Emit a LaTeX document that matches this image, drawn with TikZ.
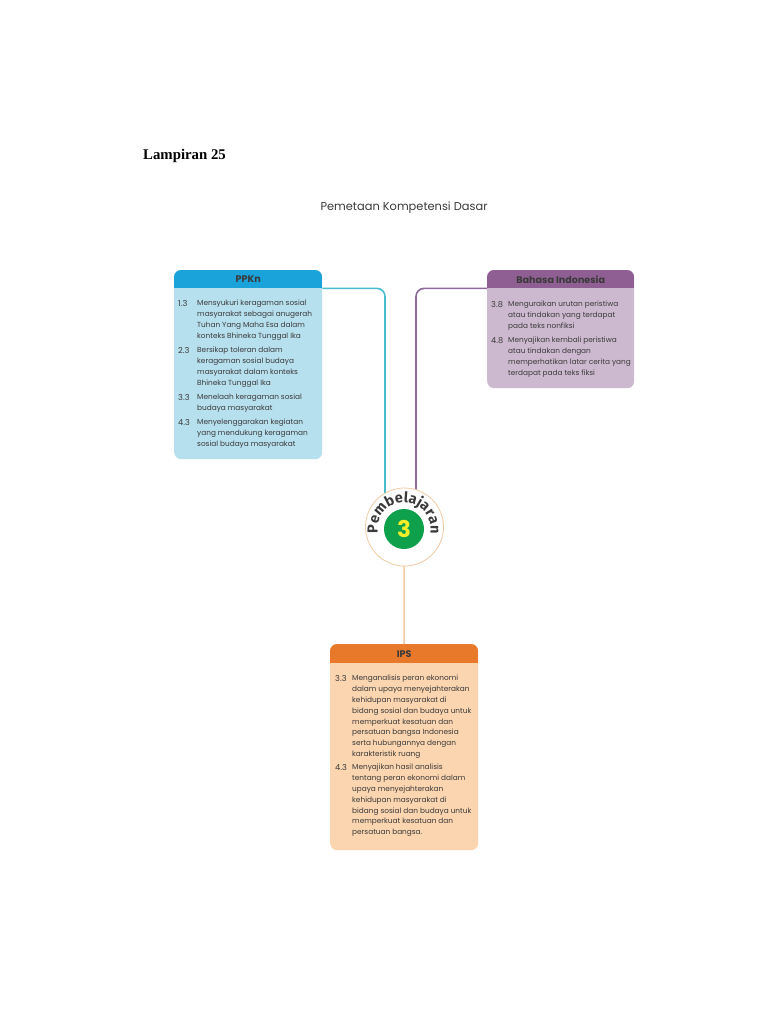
\documentclass[tikz,border=0pt]{standalone}
\usepackage{fontspec}
\newfontfamily\teksfont{Poppins}
\newfontfamily\judulfont{Liberation Serif}
\newfontfamily\lingkaranfont{Fira Sans}
\usetikzlibrary{calc,decorations.text}
\definecolor{ppknTua}{HTML}{1AA3DA}
\definecolor{ppknMuda}{HTML}{B7E0EE}
\definecolor{ppknGaris}{HTML}{4BBBCF}
\definecolor{bahasaTua}{HTML}{8F5E92}
\definecolor{bahasaMuda}{HTML}{CDB9CF}
\definecolor{bahasaGaris}{HTML}{8C6A9C}
\definecolor{ipsTua}{HTML}{E8792B}
\definecolor{ipsMuda}{HTML}{FBD5B0}
\definecolor{ipsGaris}{HTML}{F0CBA4}
\definecolor{hijauPusat}{HTML}{0FA04B}
\definecolor{kuningAngka}{HTML}{F4EE2A}
\definecolor{teksAbu}{HTML}{3A3A3A}
\tikzset{
    badan/.style={
        anchor=north west,
        inner sep=0pt,
        rounded corners=7pt
    },
    butir/.style={
        anchor=north west,
        inner sep=0pt,
        align=left,
        text=teksAbu,
        font=\teksfont\fontsize{7.35}{10.8}\selectfont
    },
    nomor/.style={
        butir,
        yshift=-0.6pt,
        font=\teksfont\fontsize{8.2}{10.8}\selectfont
    },
    sambung/.style={
        line width=1.6pt,
        rounded corners=8pt
    }
}
\begin{document}
\begin{tikzpicture}[x=1pt,y=-1pt]
    \useasboundingbox (0,0) rectangle (768,1024);
    \fill[white] (0,0) rectangle (768,1024);
    \node[anchor=base west,inner sep=0pt,font=\judulfont\bfseries\fontsize{14.8}{18}\selectfont] (lampiran) at (143,160) {Lampiran 25};
    \node[inner sep=0pt,text=teksAbu,font=\teksfont\fontsize{11.4}{13}\selectfont] (judul) at (404,208) {Pemetaan Kompetensi Dasar};
    % kotak
    \foreach \nama/\warna/\xa/\ya/\lebar/\tinggi/\tkepala/\isi in {
        ppkn/ppkn/174/270/148/189/18/PPKn,
        bahasa/bahasa/487/270/147/118/18/Bahasa Indonesia,
        ips/ips/330/644/148/206/19/IPS
    } {
        \node[badan,fill=\warna Muda,minimum width=\lebar pt,minimum height=\tinggi pt] (\nama) at (\xa,\ya) {};
        \begin{scope}
            \clip[rounded corners=7pt] (\xa,\ya) rectangle ++(\lebar,\tinggi);
            \node[anchor=north west,inner sep=0pt,fill=\warna Tua,minimum width=\lebar pt,minimum height=\tkepala pt,font=\teksfont\bfseries\fontsize{9.6}{10}\selectfont,text=teksAbu] (\nama kepala) at (\xa,\ya) {\isi};
        \end{scope}
    }
    % sambungan
    \coordinate (ujungppkn) at (385,500);
    \coordinate (ujungbahasa) at (416,500);
    \coordinate (pusatatas) at (404,527);
    \draw[sambung,ppknGaris] (ppknkepala.south east) -| (ujungppkn);
    \draw[sambung,bahasaGaris] (bahasakepala.south west) -| (ujungbahasa);
    \draw[sambung,ipsGaris] (pusatatas) -- (ipskepala.north);
    % lingkaran
    \node[circle,draw=ipsGaris,fill=white,line width=0.8pt,minimum size=78pt,inner sep=0pt] (pusat) at (404.5,527) {};
    \node[circle,fill=hijauPusat,minimum size=40pt,inner sep=0pt,text=kuningAngka,font=\teksfont\bfseries\fontsize{23}{24}\selectfont] (angka) at (404,529) {3};
    \path[decorate,decoration={text along path,text align=center,text={|\lingkaranfont\bfseries\fontsize{14.5}{15}\selectfont\color{teksAbu}|Pembelajaran}}]
        ($(angka)+(-25.2pt,-8.2pt)$) arc[start angle=198,end angle=-18,radius=26.5pt];
    % PPKn
    \node[nomor] (ppkn1n) at (178,300) {1.3};
    \node[butir] (ppkn1) at (197,300) {Mensyukuri keragaman sosial\\masyarakat sebagai anugerah\\Tuhan Yang Maha Esa dalam\\konteks Bhineka Tunggal Ika};
    \node[nomor] (ppkn2n) at (178,347) {2.3};
    \node[butir] (ppkn2) at (197,347) {Bersikap toleran dalam\\keragaman sosial budaya\\masyarakat dalam konteks\\Bhineka Tunggal Ika};
    \node[nomor] (ppkn3n) at (178,394) {3.3};
    \node[butir] (ppkn3) at (197,394) {Menelaah keragaman sosial\\budaya masyarakat};
    \node[nomor] (ppkn4n) at (178,419) {4.3};
    \node[butir] (ppkn4) at (197,419) {Menyelenggarakan kegiatan\\yang mendukung keragaman\\sosial budaya masyarakat};
    % Bahasa Indonesia
    \node[nomor] (bahasa1n) at (491,301) {3.8};
    \node[butir] (bahasa1) at (508,301) {Menguraikan urutan peristiwa\\atau tindakan yang terdapat\\pada teks nonfiksi};
    \node[nomor] (bahasa2n) at (491,337) {4.8};
    \node[butir] (bahasa2) at (508,337) {Menyajikan kembali peristiwa\\atau tindakan dengan\\memperhatikan latar cerita yang\\terdapat pada teks fiksi};
    % IPS
    \node[nomor] (ips1n) at (335,675) {3.3};
    \node[butir] (ips1) at (352,675) {Menganalisis peran ekonomi\\dalam upaya menyejahterakan\\kehidupan masyarakat di\\bidang sosial dan budaya untuk\\memperkuat kesatuan dan\\persatuan bangsa Indonesia\\serta hubungannya dengan\\karakteristik ruang};
    \node[nomor] (ips2n) at (335,764) {4.3};
    \node[butir] (ips2) at (352,764) {Menyajikan hasil analisis\\tentang peran ekonomi dalam\\upaya menyejahterakan\\kehidupan masyarakat di\\bidang sosial dan budaya untuk\\memperkuat kesatuan dan\\persatuan bangsa.};
\end{tikzpicture}
\end{document}
